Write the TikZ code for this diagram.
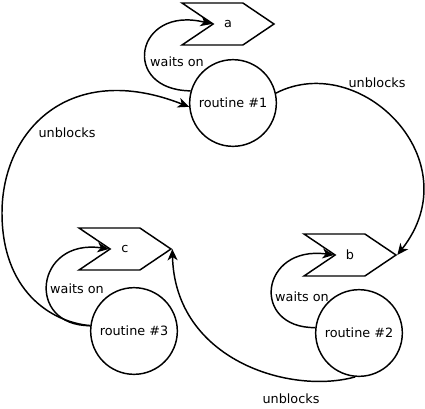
\documentclass[tikz,border=0pt]{standalone}
\usepackage{fontspec}
\setmainfont{DejaVu Sans}
\usetikzlibrary{shapes.symbols,arrows.meta,positioning}
\tikzset{routine/.style={circle,draw,minimum size=65pt,inner sep=0pt},
         lock/.style={signal,draw,signal to=east,signal from=west,signal pointer angle=68,minimum width=69pt,minimum height=31.5pt,inner sep=0pt},
         edge label/.style = {rectangle,draw=none,fill=none,inner sep=0pt}
}

\begin{document}
\begin{tikzpicture}[->,>={Stealth[length=8.5pt,width=7.5pt,inset=2.5pt]},
x=0.75pt, y=-0.75pt,
line width=1.1pt,
font=\fontsize{9.6}{11.5}\selectfont]
\useasboundingbox (0,0) rectangle (425,408);

\node [routine] (r1) at (233,103) {routine \#1};
\node [routine] (r2) at (359,333) {routine \#2};
\node [routine] (r3) at (134,331) {routine \#3};

\node [lock] (a) at (228,24) {a};
\node [lock] (b) at (350,255) {b};
\node [lock] (c) at (125,249) {c};

% waits on
\draw (r1.164) .. controls (120,90) and (135,5) .. (a.west);
\draw (r2.173) .. controls (250,328) and (260,245) .. (b.west);
\draw (r3.173) .. controls (25,326) and (35,238) .. (c.west);

% unblocks
\draw (r1.13) .. controls (360,50) and (472,160) .. (b.east);
\draw (r2.265) .. controls (290,395) and (175,360) .. (c.east);
\draw (r3.173) .. controls (50,322) and (2,290) .. (2,213)
      .. controls (2,130) and (70,60) .. (r1.185);

\node [edge label] at (177,62) {waits on};
\node [edge label] at (77,289) {waits on};
\node [edge label] at (302,297) {waits on};
\node [edge label] at (377,83) {unblocks};
\node [edge label] at (67,133) {unblocks};
\node [edge label] at (291,399) {unblocks};
\end{tikzpicture}
\end{document}
